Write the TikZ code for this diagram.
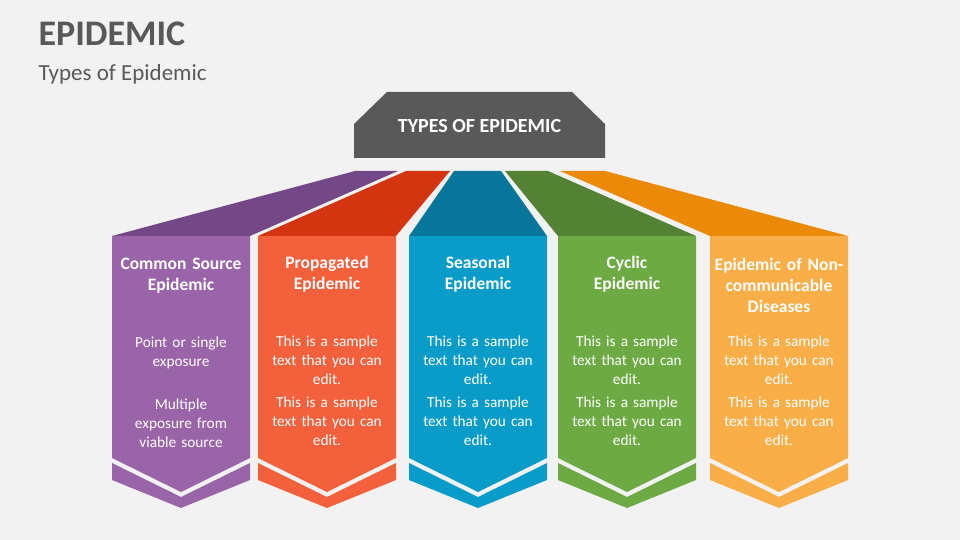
\documentclass[tikz,border=0pt]{standalone}
\usepackage{fontspec}
\setmainfont{Carlito}
\definecolor{bg}{HTML}{F2F2F2}
\definecolor{hdr}{HTML}{595959}
\definecolor{fanA}{HTML}{744886}\definecolor{boxA}{HTML}{9A64A8}
\definecolor{fanB}{HTML}{D43511}\definecolor{boxB}{HTML}{F2603C}
\definecolor{fanC}{HTML}{08759A}\definecolor{boxC}{HTML}{0A9CC9}
\definecolor{fanD}{HTML}{548235}\definecolor{boxD}{HTML}{6DAA43}
\definecolor{fanE}{HTML}{EA8A08}\definecolor{boxE}{HTML}{F9AE48}
\begin{document}
\begin{tikzpicture}
    [x=1pt, y=-1pt,
     headtext/.style={font=\fontsize{17.5}{21}\selectfont\bfseries, text=white, align=center, text width=136pt},
     bodytext/.style={font=\fontsize{15.3}{19}\selectfont, text=white, align=center, text width=136pt}]

    \fill[bg] (0,0) rectangle (960,540);
    \useasboundingbox (0,0) rectangle (960,540);

    \node[anchor=west, font=\fontsize{36}{40}\selectfont\bfseries, text=hdr] (title) at (35,34) {EPIDEMIC};
    \node[anchor=west, font=\fontsize{23}{26}\selectfont, text=hdr] (subtitle) at (35,74) {Types of Epidemic};

    % header
    \fill[hdr] (387,92) -- (572,92) -- (605,124) -- (605,158) -- (354,158) -- (354,124) -- cycle;
    \node[font=\fontsize{20}{24}\selectfont\bfseries, text=white] (types) at (479.5,126) {TYPES OF EPIDEMIC};

    % columns: left x / fan left / fan right / letter
    \foreach \x/\fl/\fr/\c in {112/355/398/A, 258/406/450/B, 409/454/501/C, 558/505/548/D, 710/560/605/E} {
      \pgfmathsetmacro{\xr}{\x+138}
      \pgfmathsetmacro{\xc}{\x+69}
      \fill[fan\c] (\fl,171) -- (\fr,171) -- (\xr,236) -- (\x,236) -- cycle;
      \fill[box\c] (\x,236) -- (\xr,236) -- (\xr,458) -- (\xc,492) -- (\x,458) -- cycle;
      \fill[box\c] (\x,463) -- (\xc,497) -- (\xr,463) -- (\xr,480) -- (\xc,508) -- (\x,480) -- cycle;
    }

    \node[headtext] (h1) at (181,276) {Common Source\\Epidemic};
    \node[headtext] (h2) at (327,274) {Propagated\\Epidemic};
    \node[headtext] (h3) at (478,274) {Seasonal\\Epidemic};
    \node[headtext] (h4) at (627,274) {Cyclic\\Epidemic};
    \node[headtext] (h5) at (779,285) {Epidemic of Non-\\communicable\\Diseases};

    \node[bodytext] (p1) at (181,353) {Point or single\\exposure};
    \node[bodytext] (q1) at (181,423) {Multiple\\exposure from\\viable source};
    \foreach \xc [count=\i from 2] in {327,478,627,779} {
      \node[bodytext] (p\i) at (\xc,360) {This is a sample\\text that you can\\edit.};
      \node[bodytext] (q\i) at (\xc,421) {This is a sample\\text that you can\\edit.};
    }
\end{tikzpicture}
\end{document}
